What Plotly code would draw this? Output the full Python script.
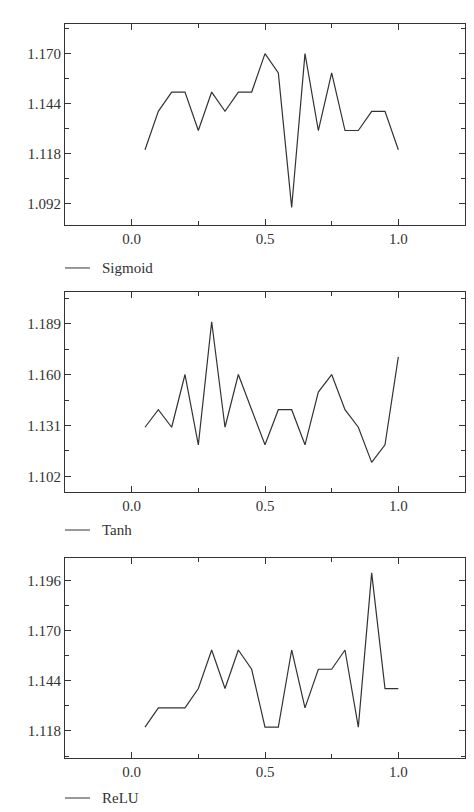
import plotly.graph_objects as go

x = [round(0.05 * i, 2) for i in range(1, 21)]
sigmoid = [1.120, 1.140, 1.150, 1.150, 1.130, 1.150, 1.140, 1.150, 1.150, 1.170,
           1.160, 1.090, 1.170, 1.130, 1.160, 1.130, 1.130, 1.140, 1.140, 1.120]
tanh = [1.130, 1.140, 1.130, 1.160, 1.120, 1.190, 1.130, 1.160, 1.140, 1.120,
        1.140, 1.140, 1.120, 1.150, 1.160, 1.140, 1.130, 1.110, 1.120, 1.170]
relu = [1.120, 1.130, 1.130, 1.130, 1.140, 1.160, 1.140, 1.160, 1.150, 1.120,
        1.120, 1.160, 1.130, 1.150, 1.150, 1.160, 1.120, 1.200, 1.140, 1.140]
names = ["Sigmoid", "Tanh", "ReLU"]
series = [sigmoid, tanh, relu]
ytick_sets = [[1.092, 1.118, 1.144, 1.170], [1.102, 1.131, 1.160, 1.189], [1.118, 1.144, 1.170, 1.196]]
ysteps = [0.013, 0.0145, 0.013]
yranges = [[1.0808, 1.1854], [1.093, 1.207], [1.104, 1.2077]]
domains = [[0.726, 1.0], [0.362, 0.635], [0.0, 0.2725]]
legend_y = [0.6676, 0.3106, -0.0545]

col = "#333333"
font = dict(family="Liberation Serif, DejaVu Serif, serif", size=15, color=col)
fig = go.Figure()
layout = dict(width=474, height=812, margin=dict(l=57, r=17, t=16, b=62),
              paper_bgcolor="white", plot_bgcolor="white", showlegend=False, font=font)
shapes, annots = [], []
for i in range(3):
    n = "" if i == 0 else str(i + 1)
    fig.add_trace(go.Scatter(x=x, y=series[i], mode="lines", line=dict(color=col, width=1.2),
                             xaxis="x" + n, yaxis="y" + n, name=names[i]))
    layout["xaxis" + n] = dict(domain=[0, 1], anchor="y" + n, range=[-0.25, 1.25],
                               tickvals=[0.0, 0.5, 1.0], ticktext=["0.0", "0.5", "1.0"],
                               ticks="inside", ticklen=6, tickcolor=col, mirror="ticks",
                               showline=True, linecolor=col, linewidth=1, showgrid=False,
                               zeroline=False,
                               minor=dict(dtick=0.25, tick0=0, ticks="inside", ticklen=4, tickcolor=col))
    t0 = ytick_sets[i][0]
    layout["yaxis" + n] = dict(domain=domains[i], anchor="x" + n, range=yranges[i],
                               tickvals=ytick_sets[i], ticktext=["%.3f" % v for v in ytick_sets[i]],
                               ticks="inside", ticklen=6, tickcolor=col, mirror="ticks",
                               showline=True, linecolor=col, linewidth=1, showgrid=False,
                               zeroline=False,
                               minor=dict(dtick=ysteps[i], tick0=t0, ticks="inside", ticklen=4, tickcolor=col))
    shapes.append(dict(type="line", xref="paper", yref="paper", x0=0, x1=0.0625,
                       y0=legend_y[i], y1=legend_y[i], line=dict(color=col, width=1)))
    annots.append(dict(xref="paper", yref="paper", x=0.0875, y=legend_y[i], text=names[i],
                       showarrow=False, xanchor="left", yanchor="middle", font=font))
layout["shapes"] = shapes
layout["annotations"] = annots
fig.update_layout(**layout)
fig.write_html("out.html")
